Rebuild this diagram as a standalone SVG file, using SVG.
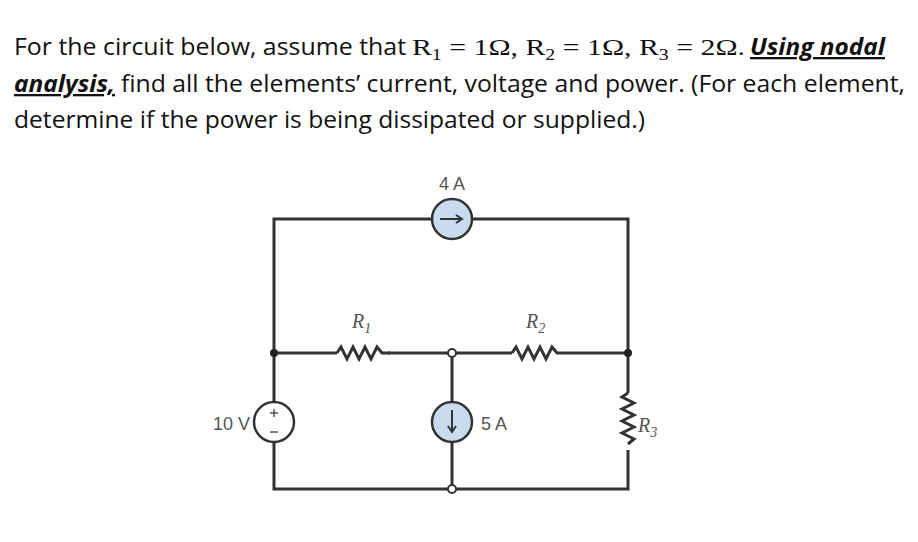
<svg xmlns="http://www.w3.org/2000/svg" width="918" height="542" viewBox="0 0 918 542">
<style>
.t{font-family:"Open Sans","Liberation Sans",sans-serif;font-size:23px;fill:#111}
.m{font-family:"Liberation Serif",serif;font-size:24px;fill:#111}
.b{font-weight:bold;font-style:italic;text-decoration:underline}
.w{stroke:#333;stroke-width:3;fill:none}
.lb{font-family:"Liberation Sans",sans-serif;font-size:18px;fill:#555}
.rl{font-family:"Liberation Serif",serif;font-style:italic;font-size:20px;fill:#555}
.src{fill:#c9dcef;stroke:#333;stroke-width:2.5}
</style>
<rect width="918" height="542" fill="#fff"/>
<g id="text">
<text class="t" x="14" y="55" textLength="392" lengthAdjust="spacingAndGlyphs">For the circuit below, assume that</text>
<text class="m" x="412" y="55" textLength="333" lengthAdjust="spacingAndGlyphs">R<tspan font-size="16" dy="5">1</tspan><tspan dy="-5"> = 1Ω, R</tspan><tspan font-size="16" dy="5">2</tspan><tspan dy="-5"> = 1Ω, R</tspan><tspan font-size="16" dy="5">3</tspan><tspan dy="-5"> = 2Ω.</tspan></text>
<text class="t b" x="750" y="55" textLength="135" lengthAdjust="spacingAndGlyphs">Using nodal</text>
<text class="t b" x="14" y="92" textLength="101" lengthAdjust="spacingAndGlyphs">analysis,</text>
<text class="t" x="121" y="92" textLength="784" lengthAdjust="spacingAndGlyphs">find all the elements’ current, voltage and power. (For each element,</text>
<text class="t" x="14" y="128" textLength="631" lengthAdjust="spacingAndGlyphs">determine if the power is being dissipated or supplied.)</text>
</g>
<g id="connectors">
<path class="w" d="M432,219 H274 V402 M274,442 V489 H628 V450 M628,393 V219 H472"/>
<path class="w" d="M274,353 H337 M388,353 H512 M565,353 H628 M452,353 V402 M452,442 V489"/>
</g>
<g id="R1"><path class="w" stroke-width="2.5" d="M337,353 l4,-6 l6,12 l6,-12 l6,12 l6,-12 l6,12 l6,-12 l5,6 h8"/><text class="rl" x="352" y="328">R<tspan font-size="14" dy="5">1</tspan></text></g>
<g id="R2"><path class="w" stroke-width="2.5" d="M512,353 l4,-6 l6,12 l6,-12 l6,12 l6,-12 l6,12 l6,-12 l5,6 h8"/><text class="rl" x="526" y="328">R<tspan font-size="14" dy="5">2</tspan></text></g>
<g id="R3"><path class="w" stroke-width="2.5" d="M628,393 l-6,4 l12,6 l-12,6 l12,6 l-12,6 l12,6 l-12,6 l12,6 l-6,5"/><text class="rl" x="638" y="432">R<tspan font-size="14" dy="5">3</tspan></text></g>
<g id="I4"><circle class="src" cx="452" cy="219" r="20"/><path d="M440,219 h22 m-6,-4 l6,4 l-6,4" stroke="#333" stroke-width="2" fill="none"/><text class="lb" x="452" y="190" text-anchor="middle">4 A</text></g>
<g id="I5"><circle class="src" cx="452" cy="422" r="20"/><path d="M452,410 v22 m-4,-6 l4,6 l4,-6" stroke="#333" stroke-width="2" fill="none"/><text class="lb" x="481" y="430">5 A</text></g>
<g id="V10"><circle cx="274" cy="422" r="20" fill="#fff" stroke="#333" stroke-width="2.5"/><path d="M270,413 h8 M274,409 v8 M270,432 h8" stroke="#555" stroke-width="1.5"/><text class="lb" x="250" y="430" text-anchor="end">10 V</text></g>
<g id="nodes"><circle cx="274" cy="353" r="4" fill="#222"/><circle cx="628" cy="353" r="4" fill="#222"/><circle cx="452" cy="353" r="4" fill="#fff" stroke="#333" stroke-width="2"/><circle cx="452" cy="489" r="4" fill="#fff" stroke="#333" stroke-width="2"/></g>
</svg>
